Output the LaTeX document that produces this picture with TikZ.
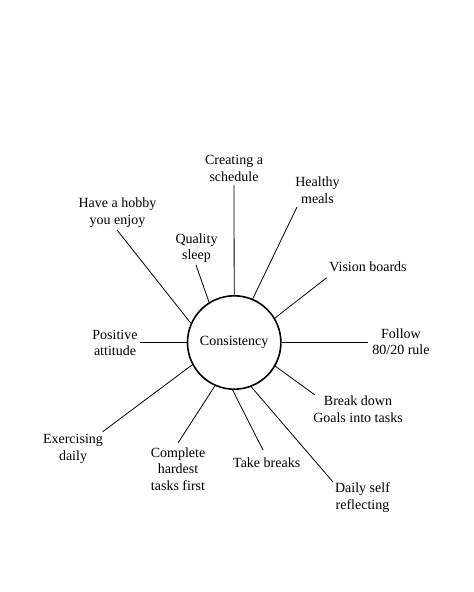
\documentclass[tikz,border=0pt]{standalone}
\usepackage{fontspec}
\setmainfont{Liberation Serif}
\begin{document}
\begin{tikzpicture}[x=1pt,y=-1pt,
  lbl/.style={align=center,inner sep=0pt,font=\fontsize{14}{16.5}\selectfont},
  spoke/.style={line width=0.8pt},
  hub/.style={circle,draw,line width=1.6pt,minimum size=93.4pt,inner sep=0pt,font=\fontsize{14}{16.5}\selectfont}]
\useasboundingbox (0,0) rectangle (474,592);
\node[hub] (c) at (234.2,342.5) {Consistency};
% labels
\node[lbl] (l1) at (234,168.5) {Creating a\\schedule};
\node[lbl] (l2) at (317.5,190.3) {Healthy\\meals};
\node[lbl] (l3) at (196.5,248.3) {Quality\\sleep};
\node[lbl] (l4) at (368,267) {Vision boards};
\node[lbl] (l5) at (117.5,212.5) {Have a hobby\\you enjoy};
\node[lbl] (l6) at (115,342.7) {Positive\\attitude};
\node[lbl] (l7) at (401,341.5) {Follow\\80/20 rule};
\node[lbl] (l8) at (358,409) {Break down\\Goals into tasks};
\node[lbl] (l9) at (73,449) {Exercising\\daily};
\node[lbl] (l10) at (178,469) {Complete\\hardest\\tasks first};
\node[lbl] (l11) at (266.7,462.7) {Take breaks};
\node[lbl] (l12) at (362.5,497.5) {Daily self\\reflecting};
% spoke ends
\coordinate (e1) at (234,185);
\coordinate (e2) at (297,207);
\coordinate (e3) at (196,265);
\coordinate (e4) at (326.7,277.7);
\coordinate (e5) at (117,230);
\coordinate (e6) at (140,342.5);
\coordinate (e7) at (368.3,342.5);
\coordinate (e8) at (315,395);
\coordinate (e9) at (102.7,431.7);
\coordinate (e10) at (178,443);
\coordinate (e11) at (263,450);
\coordinate (e12) at (333,482);
\draw[spoke] (e1) -- (c.90);
\draw[spoke] (e2) -- (c.67.5);
\draw[spoke] (e3) -- (c.122.5);
\draw[spoke] (e4) -- (c.31.3);
\draw[spoke] (e5) -- (c.156);
\draw[spoke] (e6) -- (c.180);
\draw[spoke] (e7) -- (c.0);
\draw[spoke] (e8) -- (c.-30.8);
\draw[spoke] (e9) -- (c.208.5);
\draw[spoke] (e10) -- (c.246.7);
\draw[spoke] (e11) -- (c.268);
\draw[spoke] (e12) -- (c.291);
\end{tikzpicture}
\end{document}
